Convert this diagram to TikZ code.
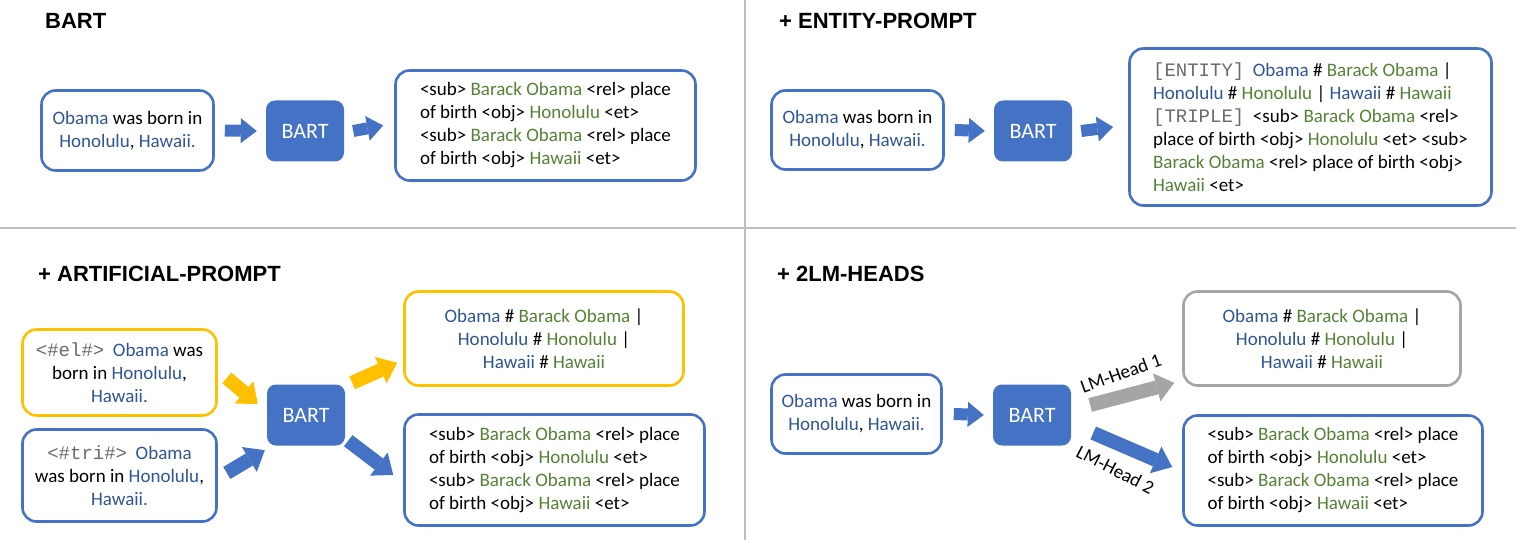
\documentclass[tikz,border=0pt]{standalone}
\usepackage{fontspec}
\setmainfont{Carlito}
\newfontfamily\titlefont{Liberation Sans}
\newfontfamily\codefont{Liberation Mono}
\usetikzlibrary{arrows.meta}
\definecolor{boxblue}{HTML}{4472C4}
\definecolor{boxyellow}{HTML}{FFC000}
\definecolor{boxgray}{HTML}{A5A5A5}
\definecolor{entblue}{HTML}{2F5597}
\definecolor{entgreen}{HTML}{548235}
\definecolor{codegray}{HTML}{6A6A6A}
\definecolor{sepgray}{HTML}{BFBFBF}
\newcommand{\blu}[1]{\textcolor{entblue}{#1}}
\newcommand{\grn}[1]{\textcolor{entgreen}{#1}}
\newcommand{\tok}[1]{{\codefont\color{codegray}#1}}
\begin{document}
\begin{tikzpicture}[x=1pt,y=-1pt,font=\fontsize{19}{23}\selectfont,
  txtbox/.style={draw=boxblue,line width=2.6pt,rounded corners=14pt,inner sep=0pt,align=center},
  ybox/.style={txtbox,draw=boxyellow},
  gbox/.style={txtbox,draw=boxgray},
  bartbox/.style={fill=boxblue,rounded corners=9pt,text=white,minimum width=78pt,minimum height=61pt,font=\fontsize{22}{26}\selectfont},
  harrow/.style={draw=boxblue,line width=12pt,-{Triangle[width=25pt,length=16pt,line width=0pt]}},
  darrow/.style={draw=boxblue,line width=14pt,-{Triangle[width=29pt,length=18pt,line width=0pt]}},
  title/.style={anchor=base west,inner sep=0pt,font=\titlefont\bfseries\fontsize{22}{26}\selectfont},
  sepline/.style={draw=sepgray,line width=1.6pt}]
\useasboundingbox (0,0) rectangle (1516,540);
\draw[sepline] (745,0) -- (745,540);
\draw[sepline] (0,228) -- (1516,228);

\node[title] (t1) at (45,29) {BART};
\node[txtbox,minimum width=172pt,minimum height=80pt] (in1) at (127.5,130.5) {\blu{Obama} was born in\\\blu{Honolulu}, \blu{Hawaii.}};
\node[bartbox] (bart1) at (305,131) {BART};
\node[txtbox,align=left,minimum width=300pt,minimum height=110pt] (out1) at (545.5,125.5) {<sub> \grn{Barack Obama} <rel> place\\of birth <obj> \grn{Honolulu} <et>\\<sub> \grn{Barack Obama} <rel> place\\of birth <obj> \grn{Hawaii} <et>};
\draw[harrow] ([xshift=10pt]in1.east) -- ([xshift=-9pt]bart1.west);
\draw[harrow] ([xshift=9pt]bart1.east) -- ([xshift=-11pt]out1.west);

\node[title] (t2) at (779,29) {+ ENTITY-PROMPT};
\node[txtbox,minimum width=172pt,minimum height=79pt] (in2) at (857.5,130) {\blu{Obama} was born in\\\blu{Honolulu}, \blu{Hawaii.}};
\node[bartbox] (bart2) at (1033,131) {BART};
\node[txtbox,align=left,minimum width=362pt,minimum height=157pt] (out2) at (1310.5,127) {\tok{[ENTITY]}\ \ \blu{Obama} \# \grn{Barack Obama} |\\\blu{Honolulu} \# \grn{Honolulu} | \blu{Hawaii} \# \grn{Hawaii}\\\tok{[TRIPLE]}\ \ <sub> \grn{Barack Obama} <rel>\\place of birth <obj> \grn{Honolulu} <et> <sub>\\\grn{Barack Obama} <rel> place of birth <obj>\\\grn{Hawaii} <et>};
\draw[harrow] ([xshift=10pt]in2.east) -- ([xshift=-9pt]bart2.west);
\draw[harrow] ([xshift=9pt]bart2.east) -- ([xshift=-15pt]out2.west);

\node[title] (t3) at (38,281) {+ ARTIFICIAL-PROMPT};
\node[ybox,minimum width=194pt,minimum height=86pt] (in3a) at (119.5,372.5) {\tok{<\#el\#>}\ \ \blu{Obama} was\\born in \blu{Honolulu},\\\blu{Hawaii.}};
\node[txtbox,minimum width=194pt,minimum height=92pt] (in3b) at (119.5,475.5) {\tok{<\#tri\#>}\ \ \blu{Obama}\\was born in \blu{Honolulu},\\\blu{Hawaii.}};
\node[bartbox] (bart3) at (306,415) {BART};
\node[ybox,minimum width=279pt,minimum height=94pt] (out3a) at (544,338.5) {\blu{Obama} \# \grn{Barack Obama} |\\\blu{Honolulu} \# \grn{Honolulu} |\\\blu{Hawaii} \# \grn{Hawaii}};
\node[txtbox,align=left,minimum width=300pt,minimum height=111pt] (out3b) at (554.5,470) {<sub> \grn{Barack Obama} <rel> place\\of birth <obj> \grn{Honolulu} <et>\\<sub> \grn{Barack Obama} <rel> place\\of birth <obj> \grn{Hawaii} <et>};
\draw[darrow,draw=boxyellow] ([shift={(9,5.5)}]in3a.east) -- ([shift={(-9,-11)}]bart3.west);
\draw[darrow] ([shift={(9,-2.5)}]in3b.east) -- ([shift={(-2,4.5)}]bart3.south west);
\draw[darrow,draw=boxyellow] ([shift={(7,-1.5)}]bart3.north east) -- ([shift={(-6,-24)}]out3a.south west);
\draw[darrow] ([shift={(3,-5)}]bart3.south east) -- ([shift={(-10,5)}]out3b.west);

\node[title] (t4) at (777,282) {+ 2LM-HEADS};
\node[txtbox,minimum width=170pt,minimum height=79pt] (in4) at (856.5,414) {\blu{Obama} was born in\\\blu{Honolulu}, \blu{Hawaii.}};
\node[bartbox] (bart4) at (1032,415) {BART};
\node[gbox,minimum width=277pt,minimum height=94pt] (out4a) at (1322,338.5) {\blu{Obama} \# \grn{Barack Obama} |\\\blu{Honolulu} \# \grn{Honolulu} |\\\blu{Hawaii} \# \grn{Hawaii}};
\node[txtbox,align=left,minimum width=299pt,minimum height=110pt] (out4b) at (1333,470.5) {<sub> \grn{Barack Obama} <rel> place\\of birth <obj> \grn{Honolulu} <et>\\<sub> \grn{Barack Obama} <rel> place\\of birth <obj> \grn{Hawaii} <et>};
\draw[harrow] ([xshift=11pt]in4.east) -- ([xshift=-9pt]bart4.west);
\draw[darrow,draw=boxgray] ([shift={(19,-10)}]bart4.east) -- ([shift={(-8,-4)}]out4a.south west) node[pos=0.45,sloped,above=6pt,rotate=5] (h1) {LM-Head 1};
\draw[darrow] ([shift={(22,18)}]bart4.east) -- ([shift={(-10,-3.5)}]out4b.west) node[pos=0.42,sloped,below=8pt,rotate=-4] (h2) {LM-Head 2};
\end{tikzpicture}
\end{document}
